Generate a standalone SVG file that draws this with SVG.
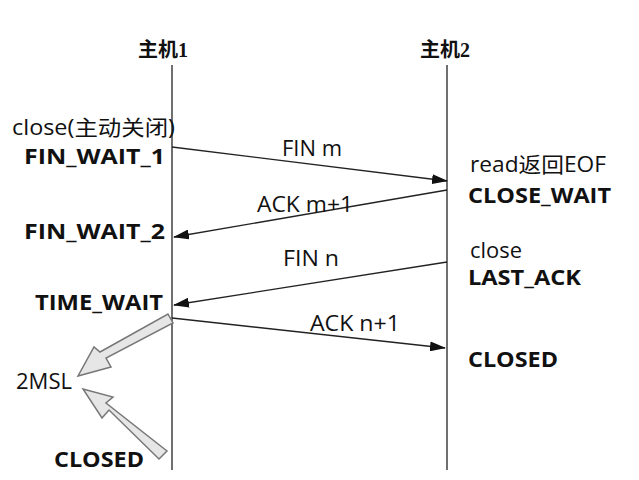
<svg xmlns="http://www.w3.org/2000/svg" width="639" height="480" viewBox="0 0 639 480">
<style>
.t{font-family:"Open Sans","Liberation Sans","Noto Sans CJK SC",sans-serif;font-size:21px;fill:#111}
.b{font-family:"Open Sans","Liberation Sans",sans-serif;font-size:21px;font-weight:bold;fill:#111}
.h{font-family:"Liberation Serif","Noto Sans CJK SC",serif;font-size:20px;font-weight:bold;fill:#111}
.ln{stroke:#222;stroke-width:1.3;fill:none}
.ar{stroke:#222;stroke-width:1.3;fill:none;marker-end:url(#m)}
.ba{fill:#e6e6e6;stroke:#777;stroke-width:1.5}
</style>
<defs><marker id="m" markerWidth="16" markerHeight="10" refX="15" refY="5" orient="auto" markerUnits="userSpaceOnUse"><path d="M0,0 L16,5 L0,10 z" fill="#111"/></marker></defs>
<rect width="639" height="480" fill="#fff"/>
<g id="host1"><text class="h" x="138" y="57">主机1</text><line class="ln" x1="172" y1="65" x2="172" y2="470"/></g>
<g id="host2"><text class="h" x="420" y="57">主机2</text><line class="ln" x1="447" y1="65" x2="447" y2="470"/></g>
<g id="labels1">
<text class="t" x="12" y="135" textLength="163" lengthAdjust="spacingAndGlyphs">close(主动关闭)</text>
<text class="b" x="24" y="164" textLength="141" lengthAdjust="spacingAndGlyphs">FIN_WAIT_1</text>
<text class="b" x="24" y="239" textLength="141" lengthAdjust="spacingAndGlyphs">FIN_WAIT_2</text>
<text class="b" x="35" y="310" textLength="128" lengthAdjust="spacingAndGlyphs">TIME_WAIT</text>
<text class="t" x="16" y="389" textLength="56" lengthAdjust="spacingAndGlyphs">2MSL</text>
<text class="b" x="54" y="467" textLength="90" lengthAdjust="spacingAndGlyphs">CLOSED</text>
</g>
<g id="labels2">
<text class="t" x="470" y="172" textLength="136" lengthAdjust="spacingAndGlyphs">read返回EOF</text>
<text class="b" x="468" y="203" textLength="143" lengthAdjust="spacingAndGlyphs">CLOSE_WAIT</text>
<text class="t" x="470" y="258" textLength="52" lengthAdjust="spacingAndGlyphs">close</text>
<text class="b" x="468" y="285" textLength="113" lengthAdjust="spacingAndGlyphs">LAST_ACK</text>
<text class="b" x="468" y="367" textLength="90" lengthAdjust="spacingAndGlyphs">CLOSED</text>
</g>
<g id="connectors">
<line class="ar" x1="172" y1="147" x2="447" y2="181"/>
<text class="t" x="282" y="156" textLength="60" lengthAdjust="spacingAndGlyphs">FIN m</text>
<line class="ar" x1="447" y1="190" x2="174" y2="237"/>
<text class="t" x="257" y="212" textLength="96" lengthAdjust="spacingAndGlyphs">ACK m+1</text>
<line class="ar" x1="447" y1="262" x2="174" y2="305"/>
<text class="t" x="283" y="266" textLength="56" lengthAdjust="spacingAndGlyphs">FIN n</text>
<line class="ar" x1="172" y1="318" x2="445" y2="348"/>
<text class="t" x="310" y="331" textLength="90" lengthAdjust="spacingAndGlyphs">ACK n+1</text>
<polygon class="ba" points="168,314 173,323 106,358 111,367 78,376 94,347 100,352"/>
<polygon class="ba" points="167,451 159,459 109,410 102,418 83,389 113,397 106,403"/>
</g>
</svg>
